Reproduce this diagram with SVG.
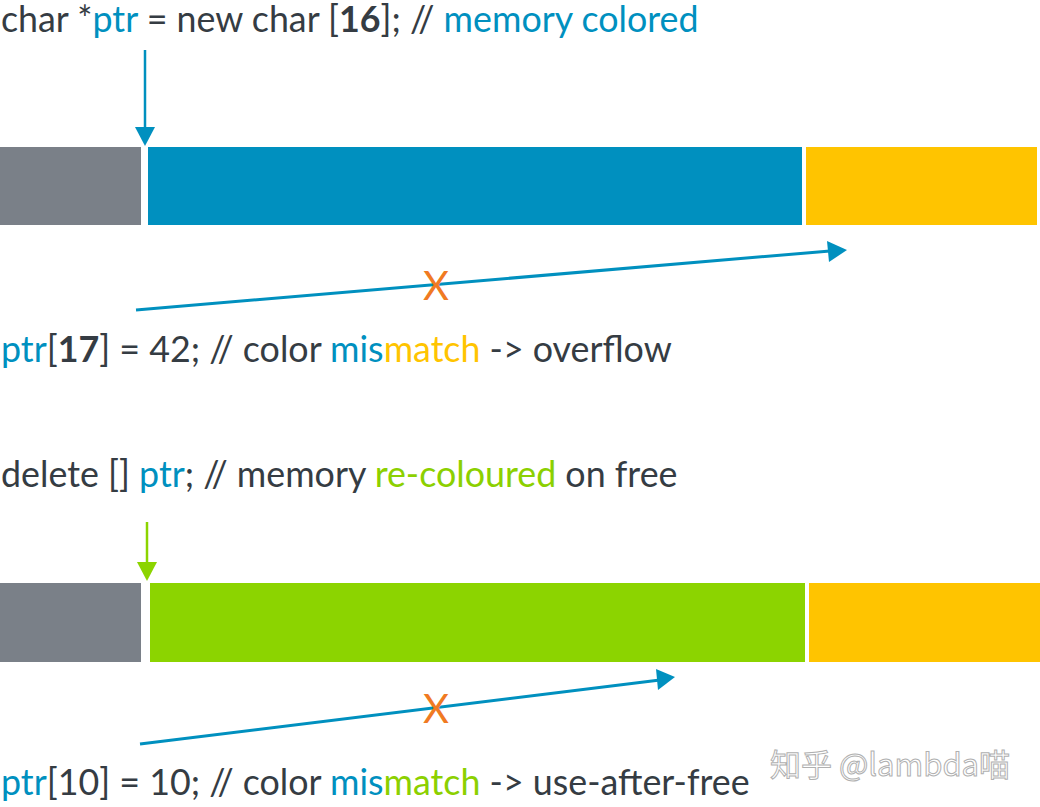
<svg xmlns="http://www.w3.org/2000/svg" width="1040" height="807" viewBox="0 0 1040 807">
<style>
.t{font-family:Lato,"Noto Sans",sans-serif;font-size:35.8px;fill:#353c43}
.b{fill:#0090bf}.y{fill:#ffc400}.g{fill:#8cd000}.bold{font-weight:bold}
.x{font-family:Lato,"Noto Sans",sans-serif;font-size:40px;fill:#f07a22}
</style>
<rect width="1040" height="807" fill="#fff"/>
<g id="row1">
<rect x="0" y="147" width="141" height="78" fill="#7a8088"/>
<rect x="148" y="147" width="654" height="78" fill="#0090bf"/>
<rect x="806" y="147" width="231" height="78" fill="#ffc400"/>
</g>
<g id="row2">
<rect x="0" y="583" width="141" height="79" fill="#7a8088"/>
<rect x="150" y="583" width="655" height="79" fill="#8cd400"/>
<rect x="809" y="583" width="231" height="79" fill="#ffc400"/>
</g>
<g id="connectors">
<line x1="145" y1="50" x2="145" y2="130" stroke="#0090bf" stroke-width="2.5"/>
<path d="M135,127 L155,127 L145,146 z" fill="#0090bf"/>
<line x1="147" y1="522" x2="147" y2="565" stroke="#8cd400" stroke-width="2.5"/>
<path d="M137,562 L157,562 L147,581 z" fill="#8cd400"/>
<line x1="136" y1="310" x2="830" y2="251" stroke="#0090bf" stroke-width="3"/>
<path d="M827,241 L847,250 L829,262 z" fill="#0090bf"/>
<line x1="140" y1="744" x2="660" y2="680" stroke="#0090bf" stroke-width="3"/>
<path d="M656,669 L675,677 L658,690 z" fill="#0090bf"/>
</g>
<g id="marks">
<text class="x" x="436" y="300" text-anchor="middle">X</text>
<text class="x" x="436" y="723" text-anchor="middle">X</text>
</g>
<g id="texts">
<text class="t" x="1" y="32">char *<tspan class="b">ptr</tspan> = new char [<tspan class="bold">16</tspan>]; // <tspan class="b">memory colored</tspan></text>
<text class="t" x="1" y="362"><tspan class="b">ptr</tspan>[<tspan class="bold">17</tspan>] = 42; // color <tspan class="b">mis</tspan><tspan class="y">match</tspan> -&gt; overflow</text>
<text class="t" x="1" y="487">delete [] <tspan class="b">ptr</tspan>; // memory <tspan class="g">re-coloured</tspan> on free</text>
<text class="t" x="1" y="795"><tspan class="b">ptr</tspan>[10] = 10; // color <tspan class="b">mis</tspan><tspan class="g">match</tspan> -&gt; use-after-free</text>
<text x="770" y="776" font-family="'Noto Sans CJK SC',Lato,sans-serif" font-size="31" fill="#fff" stroke="#b0b0b0" stroke-width="1">知乎 @lambda喵</text>
</g>
</svg>
